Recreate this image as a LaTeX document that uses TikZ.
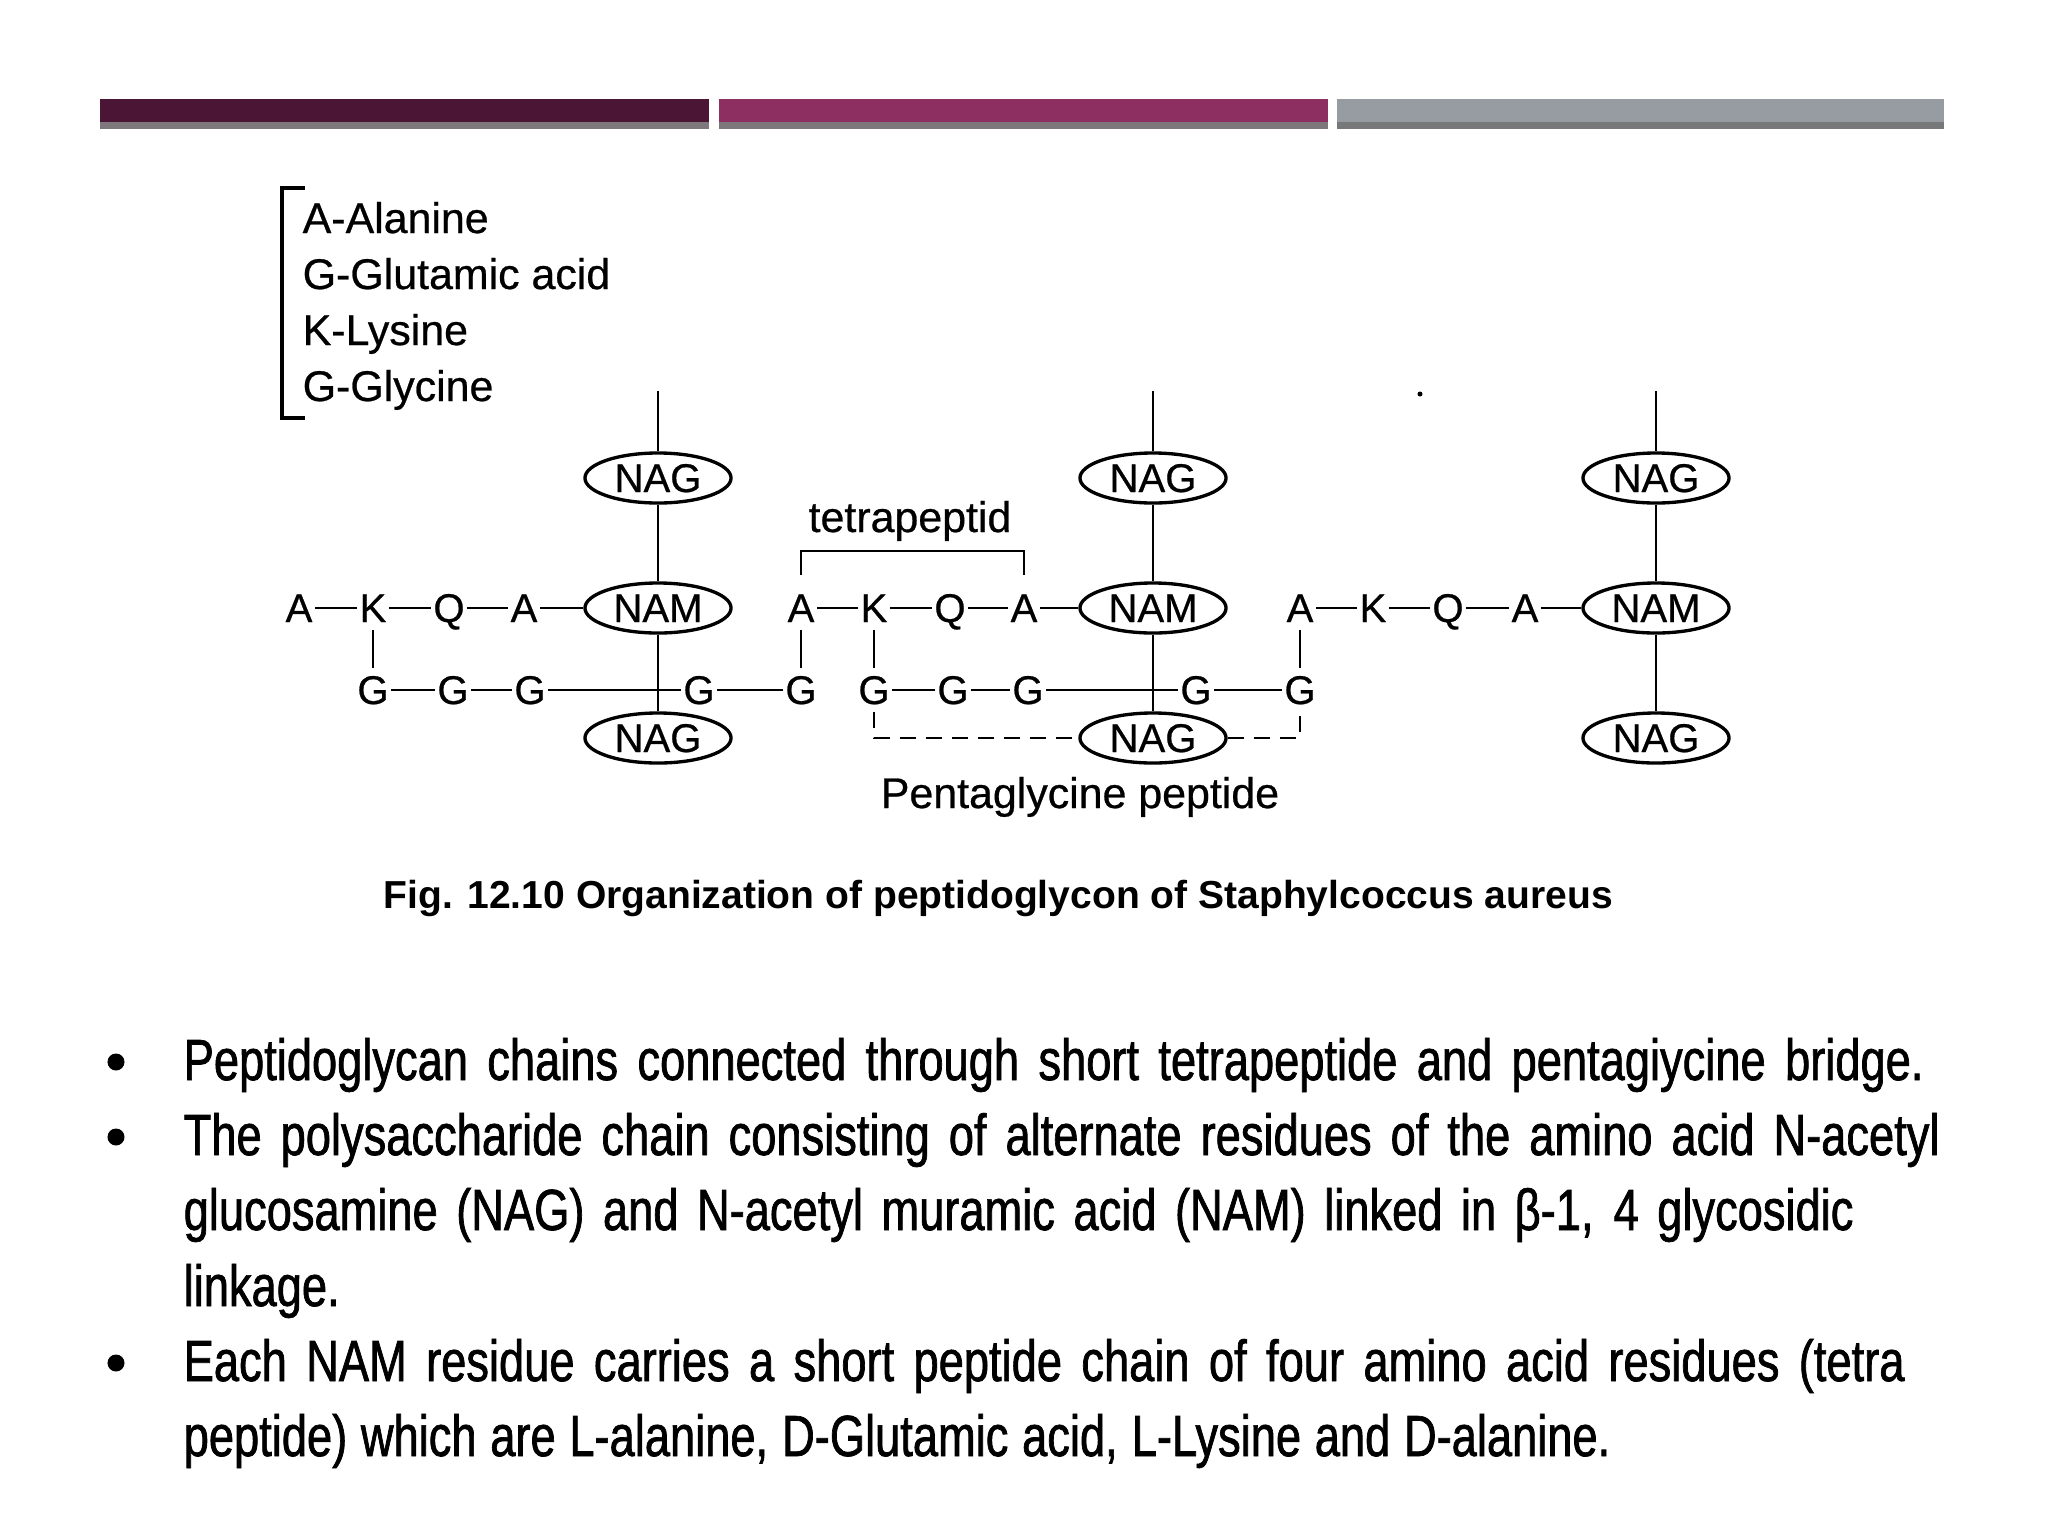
\documentclass[tikz,border=0pt]{standalone}
\usepackage{fontspec}
\setmainfont{Liberation Sans}
\newfontfamily\bodyfont[FakeStretch=0.78,FakeBold=1.2]{Liberation Sans}
\newfontfamily\diagfont[FakeBold=0.6]{Liberation Sans}
\usetikzlibrary{shapes.geometric}
\definecolor{barA}{HTML}{4B1535}
\definecolor{barB}{HTML}{8D3061}
\definecolor{barC}{HTML}{969CA1}
\definecolor{stripA}{HTML}{7E777B}
\definecolor{stripC}{HTML}{76787A}
\begin{document}
\begin{tikzpicture}[x=0.01cm,y=-0.01cm,
  lettr/.style={inner xsep=0.6pt, inner ysep=2pt, font=\fontsize{11.4pt}{13pt}\diagfont, text height=0.28cm, text depth=0pt},
  sugar/.style={ellipse, draw, line width=0.95pt, inner sep=0pt, minimum width=1.46cm, minimum height=0.5cm, font=\fontsize{11.4pt}{13pt}\diagfont, text height=0.28cm, text depth=0pt},
  bond/.style={line width=0.75pt},
  dbond/.style={line width=0.75pt, dash pattern=on 0.16cm off 0.1cm},
  lbl/.style={inner sep=0pt, font=\fontsize{12.2pt}{14pt}\diagfont},
  leg/.style={inner sep=0pt, font=\fontsize{12.2pt}{14pt}\diagfont},
  capt/.style={inner sep=0pt, font=\fontsize{11.1pt}{13pt}\selectfont\bfseries},
  body/.style={inner sep=0pt, font=\fontsize{16.5pt}{20pt}\bodyfont},
]
\useasboundingbox (0,0) rectangle (2048,1536);
\fill[white] (0,0) rectangle (2048,1536);

% header bars
\fill[barA] (100,99) rectangle (709,122);
\fill[stripA] (100,122) rectangle (709,129);
\fill[barB] (719,99) rectangle (1328,122);
\fill[stripA] (719,122) rectangle (1328,129);
\fill[barC] (1337,99) rectangle (1944,122);
\fill[stripC] (1337,122) rectangle (1944,129);

% legend
\draw[line width=0.9pt] (305,188) -- (282,188) -- (282,418) -- (305,418);
\node[leg, anchor=base west] (l1) at (302,233) {A-Alanine};
\node[leg, anchor=base west] (l2) at (302,289) {G-Glutamic acid};
\node[leg, anchor=base west] (l3) at (302,345) {K-Lysine};
\node[leg, anchor=base west] (l4) at (302,401) {G-Glycine};

% chain 1
\node[lettr] (a1) at (299,608) {A};
\node[lettr] (k1) at (373,608) {K};
\node[lettr] (q1) at (449,608) {Q};
\node[lettr] (e1) at (524,608) {A};
\node[sugar] (nam1) at (658,608) {NAM};
\node[sugar] (ngt1) at (658,478) {NAG};
\node[sugar] (ngb1) at (658,738) {NAG};
\coordinate (top1) at (658,391);
% chain 2
\node[lettr] (a2) at (801,608) {A};
\node[lettr] (k2) at (874,608) {K};
\node[lettr] (q2) at (950,608) {Q};
\node[lettr] (e2) at (1024,608) {A};
\node[sugar] (nam2) at (1153,608) {NAM};
\node[sugar] (ngt2) at (1153,478) {NAG};
\node[sugar] (ngb2) at (1153,738) {NAG};
\coordinate (top2) at (1153,391);
% chain 3
\node[lettr] (a3) at (1300,608) {A};
\node[lettr] (k3) at (1373,608) {K};
\node[lettr] (q3) at (1448,608) {Q};
\node[lettr] (e3) at (1525,608) {A};
\node[sugar] (nam3) at (1656,608) {NAM};
\node[sugar] (ngt3) at (1656,478) {NAG};
\node[sugar] (ngb3) at (1656,738) {NAG};
\coordinate (top3) at (1656,391);

% glycine rows
\node[lettr] (g11) at (373,690) {G};
\node[lettr] (g12) at (453,690) {G};
\node[lettr] (g13) at (530,690) {G};
\node[lettr] (g14) at (699,690) {G};
\node[lettr] (g15) at (801,690) {G};
\node[lettr] (g21) at (874,690) {G};
\node[lettr] (g22) at (953,690) {G};
\node[lettr] (g23) at (1028,690) {G};
\node[lettr] (g24) at (1196,690) {G};
\node[lettr] (g25) at (1300,690) {G};

% bonds
\foreach \i in {1,2,3}{
  \draw[bond] (a\i) -- (k\i);
  \draw[bond] (k\i) -- (q\i);
  \draw[bond] (q\i) -- (e\i);
  \draw[bond] (e\i) -- (nam\i);
  \draw[bond] (top\i) -- (ngt\i.north);
  \draw[bond] (ngt\i) -- (nam\i);
  \draw[bond] (nam\i) -- (ngb\i);
}
\foreach \i in {1,2}{
  \draw[bond] (g\i1) -- (g\i2);
  \draw[bond] (g\i2) -- (g\i3);
  \draw[bond] (g\i3) -- (g\i4);
  \draw[bond] (g\i4) -- (g\i5);
}
\draw[bond] (k1) -- (g11);
\draw[bond] (a2) -- (g15);
\draw[bond] (k2) -- (g21);
\draw[bond] (a3) -- (g25);

% pentaglycine dashed bracket
\draw[dbond] (g21.south) |- (ngb2.west);
\draw[dbond] (ngb2.east) -| (g25.south);

% tetrapeptide bracket
\coordinate (tb1) at (801,575);
\coordinate (tb2) at (1024,575);
\draw[bond] (tb1) -- ++(0,-24) -| (tb2);
\node[lbl, anchor=base] (tetra) at (910,532) {tetrapeptid};
\node[lbl, anchor=base] (penta) at (1080,808) {Pentaglycine peptide};
\fill (1420,394) circle[radius=0.025cm];

% caption
\node[capt, anchor=base west] (cap) at (383,908) {Fig. 12.10 Organization of peptidoglycon of Staphylcoccus aureus};

% bullets
\foreach \y in {1062,1137,1363}{\fill (116,\y) circle[radius=0.085cm];}
\node[body, anchor=base west] (b1) at (183,1080) {\makebox[17.39cm][s]{Peptidoglycan chains connected through short tetrapeptide and pentagiycine bridge.}};
\node[body, anchor=base west] (b2) at (183,1155) {\makebox[17.55cm][s]{The polysaccharide chain consisting of alternate residues of the amino acid N-acetyl}};
\node[body, anchor=base west] (b3) at (183,1230) {\makebox[16.69cm][s]{glucosamine (NAG) and N-acetyl muramic acid (NAM) linked in β-1, 4 glycosidic}};
\node[body, anchor=base west] (b4) at (183,1306) {linkage.};
\node[body, anchor=base west] (b5) at (183,1381) {\makebox[17.20cm][s]{Each NAM residue carries a short peptide chain of four amino acid residues (tetra}};
\node[body, anchor=base west] (b6) at (183,1456) {\makebox[14.26cm][s]{peptide) which are L-alanine, D-Glutamic acid, L-Lysine and D-alanine.}};
\end{tikzpicture}
\end{document}
